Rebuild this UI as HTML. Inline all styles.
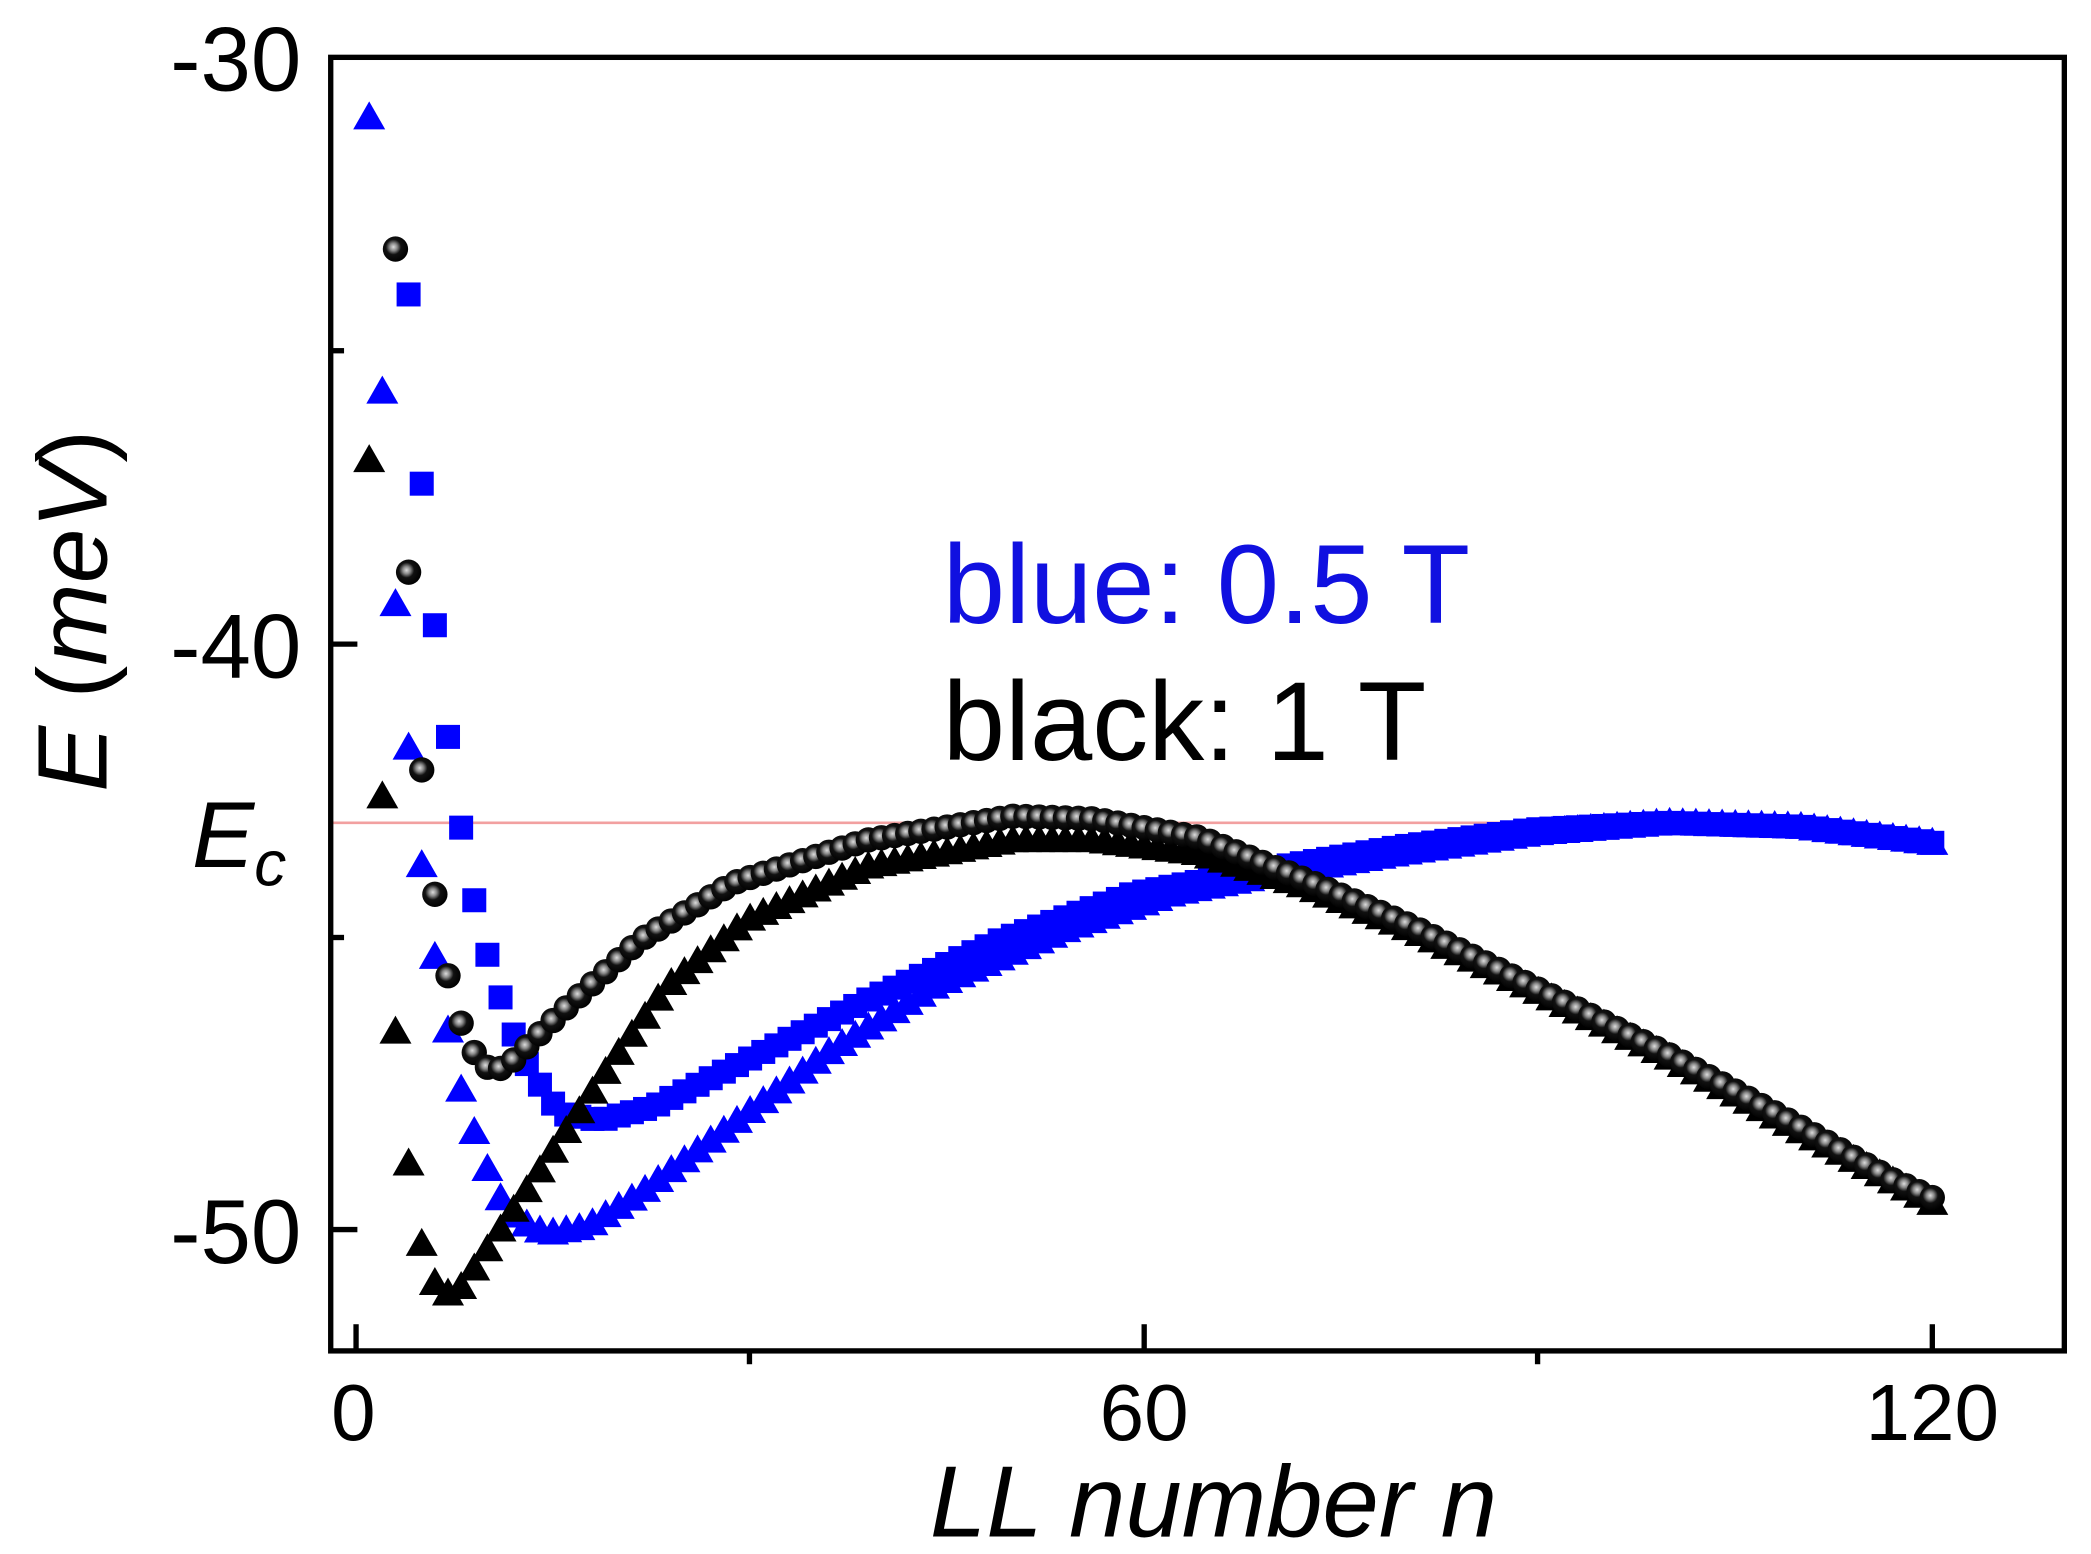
<!DOCTYPE html>
<html><head><meta charset="utf-8"><style>
html,body{margin:0;padding:0;background:#fff;overflow:hidden}
svg{display:block}
text{font-family:"Liberation Sans",Arial,sans-serif}
</style></head><body>
<svg id="s" width="2091" height="1554" viewBox="0 0 1568 1165.3" preserveAspectRatio="none" xmlns="http://www.w3.org/2000/svg">
<defs>
<radialGradient id="ball" cx="0.42" cy="0.42" r="0.6">
<stop offset="0" stop-color="#ddd"/><stop offset="0.25" stop-color="#888"/><stop offset="0.5" stop-color="#111"/><stop offset="1" stop-color="#000"/>
</radialGradient>
</defs>
<rect x="0" y="0" width="1568" height="1166" fill="#fff"/>
<line x1="248" y1="617" x2="1360" y2="617" stroke="#f2a0a0" stroke-width="2"/>
<g id="data"></g>
<rect x="248" y="43" width="1300" height="970" fill="none" stroke="#000" stroke-width="4"/>
<g stroke="#000" stroke-width="4">
<line x1="248" y1="483" x2="268" y2="483"/>
<line x1="248" y1="922" x2="268" y2="922"/>
<line x1="248" y1="263" x2="258" y2="263"/>
<line x1="248" y1="703" x2="258" y2="703"/>
<line x1="267" y1="1013" x2="267" y2="993"/>
<line x1="858" y1="1013" x2="858" y2="993"/>
<line x1="1449" y1="1013" x2="1449" y2="993"/>
<line x1="562" y1="1013" x2="562" y2="1023"/>
<line x1="1153" y1="1013" x2="1153" y2="1023"/>
</g>
<g font-size="68" fill="#000" text-anchor="end">
<text x="226" y="68">-30</text>
<text x="226" y="508">-40</text>
<text x="226" y="947">-50</text>
</g>
<text x="144" y="650" font-size="70" font-style="italic">E<tspan font-size="48" dy="14">c</tspan></text>
<g font-size="60" text-anchor="middle">
<text x="265" y="1080">0</text>
<text x="858" y="1080">60</text>
<text x="1449" y="1080">120</text>
</g>
<text x="910" y="1152" font-size="76" font-style="italic" text-anchor="middle">LL number n</text>
<text transform="translate(80,458) rotate(-90)" font-size="74" text-anchor="middle"><tspan font-style="italic">E</tspan> (<tspan font-style="italic">meV</tspan>)</text>
<text x="707" y="467" font-size="84" fill="#1010e0">blue: 0.5 T</text>
<text x="707" y="570" font-size="84" fill="#000">black: 1 T</text>
</svg>
<script>
function interp(k,x){if(x<=k[0][0])return k[0][1];for(var i=1;i<k.length;i++){if(x<=k[i][0]){var a=k[i-1],b=k[i];return a[1]+(b[1]-a[1])*(x-a[0])/(b[0]-a[0]);}}return k[k.length-1][1];}
var X=function(n){return 267+9.85*n;};
var bc=[[296,173],[306,423],[316,575],[326,670],[336,732],[346,768],[356,790],[368,803],[380,800],[420,760],[480,705],[550,662],[650,630],[760,612],[820,614],[900,628],[980,660],[1060,695],[1150,740],[1250,790],[1350,845],[1420,885],[1449,898]];
var bt=[[277,345],[287,605],[296,768],[306,870],[316,932],[326,962],[336,970],[346,965],[360,945],[380,915],[400,885],[430,840],[460,795],[500,740],[560,690],[650,650],[760,630],[820,630],[900,640],[980,665],[1060,698],[1150,742],[1250,792],[1350,848],[1449,902]];
var btr=[[277,88],[287,300],[296,447],[306,557],[316,647],[326,717],[336,773],[346,818],[356,850],[366,878],[376,900],[388,915],[410,925],[440,920],[480,895],[540,850],[620,790],[700,740],[800,697],[880,670],[960,655],[1050,640],[1150,625],[1250,617],[1350,620],[1449,632]];
var bsq=[[306,215],[316,360],[326,468],[336,553],[346,622],[356,677],[366,718],[376,750],[386,778],[396,800],[408,818],[420,835],[450,840],[490,830],[560,795],[650,750],[750,705],[850,670],[960,650],[1050,635],[1150,622],[1250,617],[1350,620],[1449,632]];
var h='';
function tri(x,y,c){h+='<polygon points="'+(x-12)+','+(y+9)+' '+(x+12)+','+(y+9)+' '+x+','+(y-12)+'" fill="'+c+'"/>';}
for(var n=4;n<=120;n++){var x=X(n);h+='<rect x="'+(x-9)+'" y="'+(interp(bsq,x)-9)+'" width="18" height="18" fill="#0000ff"/>';}
for(var n=1;n<=120;n++){var x=X(n);tri(x,interp(btr,x),'#0000ff');}
for(var n=1;n<=120;n++){var x=X(n);tri(x,interp(bt,x),'#000');}
for(var n=3;n<=120;n++){var x=X(n);h+='<circle cx="'+x+'" cy="'+interp(bc,x)+'" r="9.5" fill="url(#ball)"/>';}
document.getElementById('data').innerHTML=h;
</script>
</body></html>
